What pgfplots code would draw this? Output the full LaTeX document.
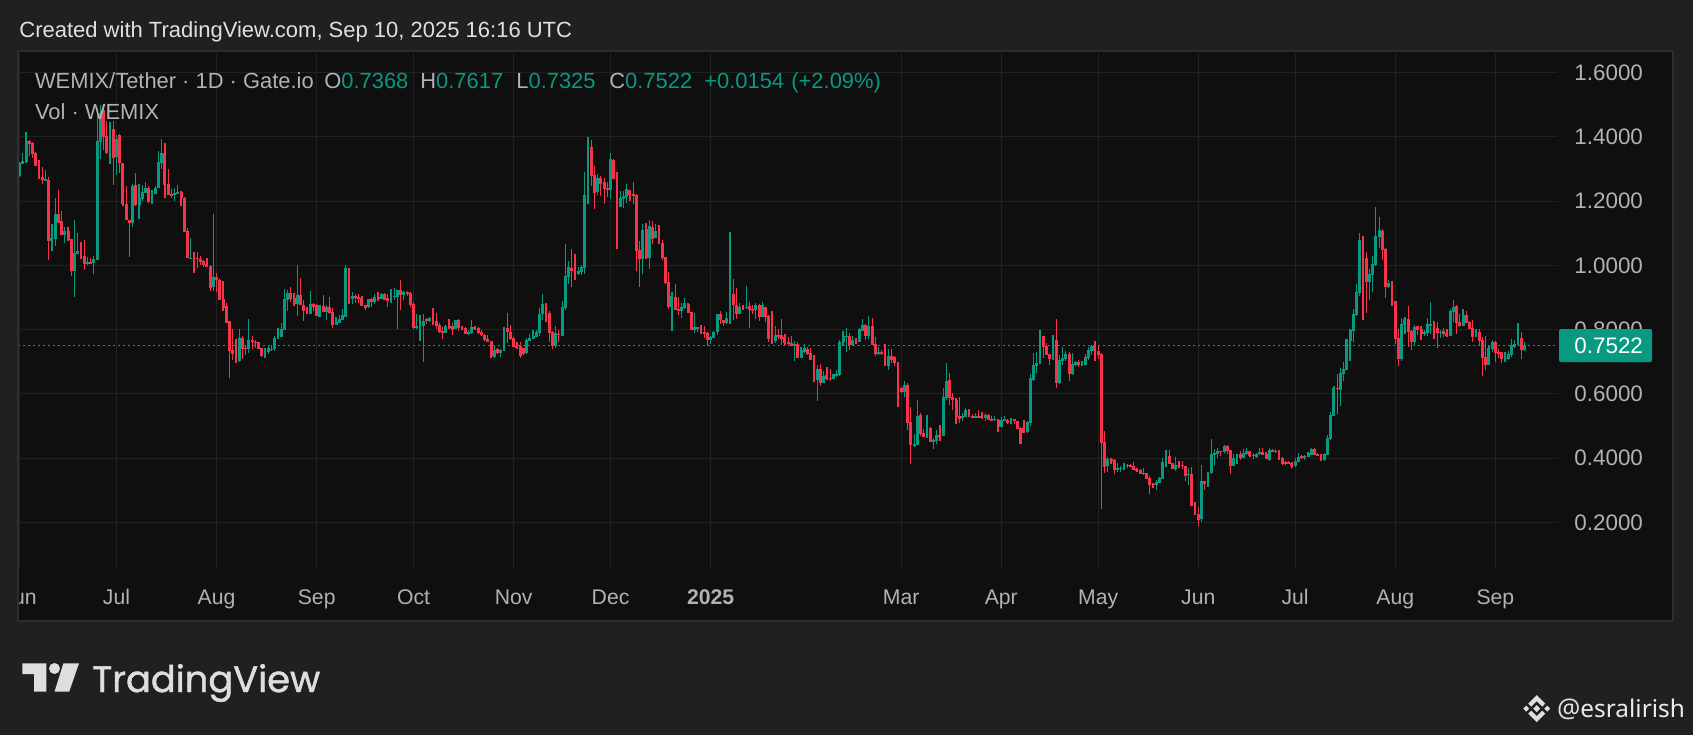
\documentclass[border=0pt]{standalone}
\usepackage{fontspec}
\setmainfont{Liberation Sans}
\newfontfamily\tvfont[FakeBold=1.2]{Poppins}
\newfontfamily\wmfont{Noto Sans}
\usepackage{pgfplots}
\usepackage{pgfplotstable}
\pgfplotsset{compat=1.18}
\definecolor{pagebg}{HTML}{202020}
\definecolor{panelbg}{HTML}{0F0F0F}
\definecolor{panelln}{HTML}{2E2E2E}
\definecolor{gridc}{HTML}{212121}
\definecolor{txt}{HTML}{B2B2B2}
\definecolor{upc}{HTML}{089981}
\definecolor{dnc}{HTML}{F5334A}
\definecolor{logoc}{HTML}{DEDEDE}
\pgfplotstableread{
d o h l c
-214 1.278 1.322 1.276 1.320
-213 1.316 1.351 1.316 1.325
-212 1.322 1.414 1.320 1.387
-211 1.386 1.390 1.341 1.379
-210 1.381 1.384 1.335 1.346
-209 1.350 1.353 1.310 1.310
-208 1.312 1.328 1.268 1.273
-207 1.275 1.305 1.254 1.266
-206 1.265 1.297 1.263 1.269
-205 1.267 1.275 1.017 1.076
-204 1.076 1.129 1.046 1.085
-203 1.082 1.210 1.060 1.160
-202 1.160 1.234 1.133 1.133
-201 1.138 1.169 1.095 1.095
-200 1.095 1.119 1.070 1.107
-199 1.107 1.119 1.076 1.078
-198 1.082 1.082 0.967 0.983
-197 0.983 1.141 0.902 1.039
-196 1.036 1.101 1.034 1.045
-195 1.045 1.073 1.020 1.023
-194 1.029 1.079 0.986 1.004
-193 1.004 1.026 1.001 1.010
-192 1.010 1.023 1.007 1.007
-191 1.007 1.029 0.973 1.020
-190 1.017 1.490 1.017 1.387
-189 1.384 1.499 1.331 1.473
-188 1.485 1.490 1.359 1.399
-187 1.402 1.449 1.346 1.350
-186 1.350 1.446 1.315 1.424
-185 1.424 1.449 1.250 1.334
-184 1.337 1.406 1.281 1.393
-183 1.406 1.409 1.287 1.318
-182 1.318 1.318 1.185 1.191
-181 1.191 1.247 1.141 1.141
-180 1.141 1.141 1.027 1.132
-179 1.132 1.253 1.119 1.247
-178 1.250 1.287 1.185 1.188
-177 1.188 1.253 1.144 1.210
-176 1.207 1.250 1.200 1.228
-175 1.225 1.259 1.225 1.241
-174 1.241 1.247 1.194 1.197
-173 1.194 1.234 1.191 1.225
-172 1.223 1.247 1.222 1.241
-171 1.241 1.356 1.241 1.322
-170 1.319 1.393 1.300 1.350
-169 1.350 1.381 1.210 1.250
-168 1.253 1.300 1.219 1.219
-167 1.222 1.238 1.210 1.218
-166 1.222 1.241 1.200 1.225
-165 1.222 1.250 1.222 1.228
-164 1.228 1.231 1.185 1.210
-163 1.210 1.213 1.104 1.104
-162 1.107 1.116 1.023 1.023
-161 1.021 1.085 1.020 1.024
-160 1.024 1.042 0.976 1.021
-159 1.024 1.042 0.992 1.021
-158 1.019 1.029 1.000 1.011
-157 1.014 1.017 0.995 1.001
-156 1.004 1.023 0.995 0.995
-155 0.998 1.001 0.920 0.930
-154 0.933 1.160 0.920 0.964
-153 0.964 0.976 0.917 0.955
-152 0.955 0.958 0.892 0.892
-151 0.895 0.951 0.858 0.867
-150 0.874 0.883 0.821 0.821
-149 0.827 0.827 0.650 0.734
-148 0.737 0.802 0.706 0.724
-147 0.724 0.771 0.696 0.706
-146 0.703 0.802 0.699 0.774
-145 0.774 0.780 0.709 0.740
-144 0.743 0.752 0.721 0.740
-143 0.740 0.833 0.727 0.768
-142 0.768 0.780 0.740 0.762
-141 0.762 0.768 0.743 0.759
-140 0.762 0.762 0.740 0.740
-139 0.743 0.743 0.716 0.718
-138 0.718 0.743 0.712 0.731
-137 0.731 0.752 0.724 0.743
-136 0.739 0.752 0.734 0.741
-135 0.740 0.780 0.734 0.774
-134 0.771 0.805 0.770 0.783
-133 0.778 0.820 0.776 0.801
-132 0.799 0.927 0.799 0.895
-131 0.892 0.924 0.858 0.914
-130 0.914 0.933 0.886 0.894
-129 0.899 0.914 0.874 0.880
-128 0.880 1.001 0.843 0.908
-127 0.908 0.961 0.877 0.877
-126 0.877 0.892 0.827 0.858
-125 0.861 0.871 0.849 0.851
-124 0.850 0.920 0.849 0.880
-123 0.880 0.883 0.858 0.872
-122 0.877 0.880 0.843 0.843
-121 0.840 0.877 0.840 0.877
-120 0.874 0.908 0.855 0.855
-119 0.855 0.877 0.830 0.871
-118 0.871 0.902 0.849 0.852
-117 0.855 0.867 0.805 0.815
-116 0.815 0.839 0.815 0.824
-115 0.821 0.846 0.821 0.833
-114 0.830 0.864 0.830 0.846
-113 0.840 1.001 0.840 0.992
-112 0.989 0.992 0.880 0.895
-111 0.895 0.917 0.880 0.905
-110 0.905 0.911 0.883 0.901
-109 0.902 0.911 0.883 0.895
-108 0.898 0.905 0.874 0.874
-107 0.877 0.877 0.861 0.867
-106 0.871 0.895 0.867 0.895
-105 0.895 0.898 0.871 0.886
-104 0.886 0.911 0.880 0.902
-103 0.902 0.917 0.889 0.895
-102 0.895 0.914 0.895 0.911
-101 0.911 0.914 0.892 0.892
-100 0.898 0.911 0.871 0.889
-99 0.892 0.927 0.883 0.908
-98 0.903 0.930 0.892 0.906
-97 0.903 0.924 0.802 0.924
-96 0.924 0.955 0.861 0.908
-95 0.908 0.920 0.892 0.917
-94 0.917 0.920 0.905 0.912
-93 0.915 0.917 0.871 0.877
-92 0.880 0.886 0.802 0.805
-91 0.808 0.849 0.802 0.811
-90 0.808 0.846 0.765 0.818
-89 0.811 0.849 0.700 0.827
-88 0.833 0.836 0.818 0.829
-87 0.827 0.839 0.824 0.836
-86 0.836 0.867 0.815 0.824
-85 0.827 0.852 0.802 0.811
-84 0.814 0.821 0.790 0.793
-83 0.796 0.808 0.771 0.792
-82 0.790 0.814 0.790 0.811
-81 0.811 0.833 0.802 0.807
-80 0.811 0.821 0.783 0.799
-79 0.802 0.830 0.802 0.830
-78 0.830 0.833 0.796 0.805
-77 0.807 0.811 0.799 0.804
-76 0.805 0.808 0.787 0.787
-75 0.787 0.799 0.783 0.793
-74 0.789 0.830 0.787 0.808
-73 0.808 0.811 0.799 0.804
-72 0.805 0.808 0.787 0.790
-71 0.793 0.799 0.780 0.783
-70 0.783 0.787 0.765 0.768
-69 0.771 0.783 0.762 0.762
-68 0.765 0.765 0.712 0.718
-67 0.715 0.749 0.712 0.737
-66 0.740 0.743 0.724 0.727
-65 0.727 0.740 0.715 0.737
-64 0.734 0.808 0.734 0.805
-63 0.805 0.852 0.759 0.793
-62 0.793 0.815 0.768 0.771
-61 0.774 0.777 0.746 0.746
-60 0.749 0.762 0.740 0.746
-59 0.749 0.762 0.712 0.718
-58 0.742 0.742 0.721 0.724
-57 0.726 0.773 0.724 0.768
-56 0.765 0.787 0.765 0.774
-55 0.771 0.799 0.771 0.780
-54 0.777 0.799 0.777 0.793
-53 0.790 0.868 0.781 0.849
-52 0.849 0.911 0.830 0.880
-51 0.880 0.883 0.824 0.849
-50 0.852 0.858 0.762 0.790
-49 0.793 0.796 0.740 0.749
-48 0.749 0.811 0.743 0.790
-47 0.787 0.799 0.762 0.784
-46 0.780 0.889 0.780 0.871
-45 0.868 1.067 0.861 0.967
-44 0.964 1.014 0.942 0.995
-43 0.992 1.051 0.933 0.983
-42 0.983 1.036 0.955 0.973
-41 0.973 0.995 0.970 0.983
-40 0.980 1.001 0.970 0.995
-39 0.992 1.291 0.973 1.219
-38 1.216 1.399 1.191 1.368
-37 1.368 1.390 1.247 1.278
-36 1.281 1.309 1.175 1.225
-35 1.228 1.284 1.219 1.272
-34 1.272 1.278 1.216 1.253
-33 1.259 1.272 1.191 1.238
-32 1.240 1.259 1.213 1.237
-31 1.235 1.350 1.207 1.331
-30 1.328 1.331 1.269 1.269
-29 1.272 1.291 1.051 1.182
-28 1.182 1.231 1.182 1.210
-27 1.207 1.231 1.179 1.216
-26 1.213 1.253 1.194 1.238
-25 1.235 1.235 1.200 1.219
-24 1.222 1.259 1.191 1.219
-23 1.219 1.222 0.983 1.045
-22 1.048 1.076 0.933 1.020
-21 1.020 1.129 0.973 1.110
-20 1.113 1.132 1.020 1.023
-19 1.023 1.141 0.989 1.123
-18 1.120 1.138 1.067 1.082
-17 1.085 1.129 1.085 1.107
-16 1.107 1.126 1.067 1.067
-15 1.070 1.079 1.017 1.023
-14 1.026 1.026 0.942 0.945
-13 0.948 0.979 0.864 0.871
-12 0.871 0.917 0.796 0.905
-11 0.902 0.942 0.861 0.861
-10 0.864 0.902 0.846 0.861
-9 0.858 0.883 0.836 0.871
-8 0.867 0.899 0.864 0.883
-7 0.880 0.883 0.852 0.852
-6 0.855 0.855 0.799 0.799
-5 0.799 0.852 0.790 0.808
-4 0.802 0.808 0.793 0.808
-3 0.808 0.815 0.787 0.787
-2 0.793 0.811 0.774 0.787
-1 0.790 0.793 0.749 0.768
0 0.768 0.780 0.755 0.777
1 0.774 0.796 0.774 0.793
2 0.793 0.849 0.784 0.849
3 0.849 0.858 0.818 0.830
4 0.830 0.830 0.811 0.821
5 0.821 0.855 0.818 0.836
6 0.830 1.104 0.818 0.911
7 0.911 0.958 0.830 0.877
8 0.877 0.930 0.833 0.849
9 0.849 0.883 0.849 0.871
10 0.873 0.877 0.861 0.863
11 0.867 0.936 0.864 0.871
12 0.873 0.886 0.805 0.861
13 0.864 0.877 0.849 0.861
14 0.861 0.883 0.833 0.877
15 0.877 0.880 0.827 0.840
16 0.840 0.886 0.840 0.877
17 0.871 0.871 0.824 0.840
18 0.843 0.846 0.762 0.771
19 0.774 0.858 0.755 0.762
20 0.765 0.811 0.758 0.783
21 0.783 0.802 0.771 0.780
22 0.783 0.833 0.752 0.771
23 0.777 0.786 0.752 0.758
24 0.762 0.777 0.752 0.758
25 0.758 0.780 0.750 0.750
26 0.752 0.765 0.703 0.755
27 0.755 0.762 0.712 0.712
28 0.712 0.746 0.712 0.737
29 0.730 0.755 0.727 0.743
30 0.740 0.746 0.721 0.724
31 0.727 0.743 0.706 0.706
32 0.709 0.721 0.637 0.643
33 0.643 0.690 0.578 0.678
34 0.678 0.693 0.625 0.634
35 0.634 0.671 0.634 0.656
36 0.659 0.684 0.643 0.647
37 0.650 0.678 0.640 0.647
38 0.647 0.662 0.647 0.662
39 0.656 0.675 0.653 0.662
40 0.659 0.768 0.656 0.762
41 0.762 0.796 0.749 0.780
42 0.778 0.805 0.730 0.781
43 0.780 0.790 0.737 0.752
44 0.752 0.780 0.749 0.768
45 0.768 0.774 0.755 0.764
46 0.763 0.805 0.763 0.802
47 0.796 0.833 0.796 0.814
48 0.814 0.818 0.768 0.780
49 0.780 0.842 0.771 0.811
50 0.811 0.836 0.752 0.752
51 0.755 0.777 0.718 0.724
52 0.724 0.746 0.721 0.730
53 0.730 0.737 0.721 0.724
54 0.727 0.755 0.687 0.687
55 0.687 0.740 0.675 0.718
56 0.718 0.740 0.696 0.706
57 0.715 0.718 0.687 0.696
58 0.696 0.699 0.559 0.615
59 0.618 0.622 0.603 0.606
60 0.606 0.640 0.591 0.628
61 0.628 0.634 0.488 0.510
62 0.513 0.559 0.382 0.441
63 0.441 0.475 0.435 0.444
64 0.441 0.581 0.441 0.531
65 0.534 0.541 0.469 0.475
66 0.478 0.491 0.466 0.466
67 0.466 0.534 0.463 0.494
68 0.494 0.497 0.450 0.450
69 0.450 0.463 0.429 0.457
70 0.454 0.488 0.444 0.472
71 0.472 0.503 0.454 0.469
72 0.469 0.618 0.469 0.591
73 0.587 0.696 0.581 0.640
74 0.643 0.665 0.566 0.587
75 0.591 0.603 0.550 0.581
76 0.581 0.587 0.507 0.528
77 0.531 0.591 0.510 0.522
78 0.528 0.541 0.516 0.531
79 0.528 0.556 0.528 0.550
80 0.547 0.553 0.528 0.528
81 0.531 0.538 0.525 0.525
82 0.525 0.541 0.525 0.531
83 0.531 0.550 0.525 0.528
84 0.531 0.544 0.522 0.525
85 0.525 0.541 0.516 0.534
86 0.534 0.538 0.519 0.519
87 0.522 0.531 0.516 0.516
88 0.519 0.531 0.516 0.522
89 0.519 0.522 0.482 0.497
90 0.497 0.528 0.497 0.519
91 0.518 0.531 0.516 0.521
92 0.519 0.522 0.507 0.510
93 0.510 0.525 0.507 0.521
94 0.521 0.521 0.507 0.516
95 0.516 0.516 0.491 0.491
96 0.494 0.497 0.444 0.444
97 0.494 0.519 0.479 0.479
98 0.482 0.516 0.479 0.513
99 0.510 0.662 0.500 0.650
100 0.644 0.727 0.640 0.690
101 0.687 0.731 0.665 0.696
102 0.693 0.799 0.693 0.780
103 0.780 0.780 0.712 0.746
104 0.749 0.759 0.721 0.721
105 0.724 0.724 0.690 0.709
106 0.706 0.783 0.706 0.768
107 0.768 0.833 0.619 0.634
108 0.634 0.721 0.631 0.706
109 0.703 0.746 0.690 0.712
110 0.709 0.734 0.703 0.724
111 0.724 0.731 0.640 0.662
112 0.662 0.727 0.659 0.693
113 0.690 0.703 0.687 0.699
114 0.699 0.706 0.684 0.690
115 0.690 0.703 0.687 0.693
116 0.690 0.724 0.690 0.715
117 0.712 0.746 0.706 0.737
118 0.734 0.752 0.721 0.749
119 0.752 0.765 0.703 0.734
120 0.734 0.752 0.709 0.721
121 0.724 0.727 0.242 0.447
122 0.450 0.485 0.354 0.373
123 0.376 0.404 0.357 0.398
124 0.398 0.401 0.382 0.392
125 0.395 0.398 0.351 0.363
126 0.363 0.385 0.357 0.370
127 0.367 0.376 0.357 0.371
128 0.367 0.385 0.363 0.379
129 0.379 0.382 0.370 0.376
130 0.378 0.382 0.372 0.375
131 0.376 0.388 0.363 0.363
132 0.365 0.370 0.357 0.362
133 0.363 0.367 0.351 0.351
134 0.354 0.370 0.348 0.351
135 0.354 0.354 0.336 0.336
136 0.339 0.345 0.289 0.317
137 0.320 0.323 0.308 0.317
138 0.317 0.332 0.301 0.326
139 0.323 0.342 0.323 0.339
140 0.336 0.401 0.336 0.388
141 0.385 0.426 0.373 0.410
142 0.407 0.426 0.382 0.382
143 0.385 0.385 0.367 0.367
144 0.367 0.404 0.360 0.379
145 0.379 0.392 0.370 0.376
146 0.379 0.392 0.367 0.376
147 0.376 0.376 0.329 0.345
148 0.348 0.370 0.317 0.351
149 0.351 0.373 0.252 0.252
150 0.255 0.264 0.223 0.223
151 0.227 0.248 0.189 0.208
152 0.211 0.379 0.202 0.329
153 0.329 0.329 0.301 0.320
154 0.320 0.357 0.311 0.357
155 0.354 0.460 0.351 0.413
156 0.412 0.429 0.376 0.415
157 0.413 0.432 0.401 0.423
158 0.423 0.423 0.407 0.420
159 0.420 0.441 0.416 0.438
160 0.438 0.441 0.413 0.423
161 0.426 0.426 0.351 0.376
162 0.376 0.413 0.376 0.401
163 0.398 0.413 0.382 0.413
164 0.413 0.423 0.395 0.401
165 0.401 0.429 0.401 0.416
166 0.413 0.432 0.410 0.423
167 0.423 0.423 0.404 0.407
168 0.410 0.416 0.398 0.407
169 0.404 0.416 0.401 0.413
170 0.413 0.432 0.410 0.420
171 0.420 0.432 0.410 0.410
172 0.413 0.420 0.398 0.398
173 0.395 0.432 0.391 0.426
174 0.426 0.430 0.418 0.421
175 0.421 0.429 0.417 0.424
176 0.424 0.426 0.395 0.400
177 0.402 0.405 0.378 0.382
178 0.389 0.392 0.378 0.382
179 0.389 0.392 0.381 0.384
180 0.386 0.389 0.371 0.376
181 0.376 0.400 0.374 0.392
182 0.389 0.415 0.389 0.405
183 0.408 0.410 0.397 0.400
184 0.400 0.410 0.395 0.407
185 0.405 0.420 0.405 0.415
186 0.410 0.431 0.410 0.428
187 0.428 0.431 0.410 0.410
188 0.412 0.415 0.408 0.410
189 0.410 0.412 0.392 0.394
190 0.394 0.415 0.392 0.412
191 0.410 0.472 0.410 0.462
192 0.459 0.545 0.457 0.535
193 0.532 0.625 0.532 0.619
194 0.620 0.662 0.538 0.616
195 0.612 0.681 0.563 0.665
196 0.662 0.699 0.640 0.678
197 0.675 0.771 0.675 0.771
198 0.765 0.802 0.703 0.799
199 0.796 0.864 0.762 0.849
200 0.846 0.942 0.842 0.917
201 0.914 1.101 0.905 1.079
202 1.079 1.091 0.830 1.020
203 1.023 1.042 0.852 0.948
204 0.948 0.989 0.892 0.973
205 0.970 1.029 0.917 1.004
206 1.001 1.182 0.998 1.091
207 1.088 1.150 1.054 1.110
208 1.107 1.113 1.017 1.048
209 1.051 1.054 0.898 0.933
210 0.933 0.955 0.930 0.945
211 0.945 0.951 0.874 0.886
212 0.889 0.889 0.755 0.771
213 0.774 0.802 0.687 0.709
214 0.709 0.836 0.702 0.818
215 0.815 0.839 0.786 0.833
216 0.833 0.874 0.746 0.793
217 0.796 0.799 0.737 0.762
218 0.762 0.814 0.749 0.808
219 0.811 0.811 0.783 0.799
220 0.802 0.811 0.768 0.786
221 0.786 0.799 0.780 0.793
222 0.790 0.836 0.780 0.818
223 0.814 0.886 0.786 0.818
224 0.818 0.827 0.771 0.802
225 0.805 0.824 0.743 0.790
226 0.790 0.799 0.774 0.793
227 0.796 0.805 0.777 0.786
228 0.790 0.802 0.777 0.780
229 0.780 0.864 0.780 0.858
230 0.855 0.892 0.824 0.871
231 0.874 0.877 0.786 0.821
232 0.824 0.849 0.808 0.811
233 0.811 0.864 0.811 0.846
234 0.846 0.858 0.821 0.821
235 0.824 0.827 0.802 0.802
236 0.805 0.830 0.762 0.777
237 0.777 0.802 0.777 0.793
238 0.793 0.802 0.749 0.765
239 0.768 0.777 0.656 0.712
240 0.715 0.780 0.674 0.690
241 0.690 0.752 0.690 0.743
242 0.740 0.768 0.730 0.762
243 0.762 0.765 0.699 0.727
244 0.730 0.740 0.712 0.727
245 0.730 0.730 0.696 0.709
246 0.709 0.730 0.699 0.712
247 0.709 0.734 0.706 0.724
248 0.721 0.771 0.715 0.752
249 0.746 0.768 0.743 0.755
250 0.752 0.821 0.752 0.774
251 0.774 0.793 0.709 0.7368
252 0.7368 0.7617 0.7325 0.7522
}\candles
\begin{document}
\begin{tikzpicture}[x=0.5pt,y=-0.5pt]
\fill[pagebg] (0,0) rectangle (1693,735);
\filldraw[fill=panelbg,draw=panelln,line width=1pt] (18,51) rectangle (1673,621);
\begin{axis}[
  at={(9pt,-284pt)}, anchor=south west, scale only axis,
  width=770pt, height=258.5pt,
  xmin=-214.5, xmax=262.4, ymin=0.0584, ymax=1.667,
  axis line style={draw=none}, major tick length=0pt,
  grid=major, grid style={draw=gridc,line width=0.5pt},
  xtick={-214,-184,-153,-122,-92,-61,-31,0,59,90,120,151,181,212,243},
  xticklabels={Jun,Jul,Aug,Sep,Oct,Nov,Dec,\textbf{2025},Mar,Apr,May,Jun,Jul,Aug,Sep},
  ytick={0.2,0.4,0.6,0.8,1.0,1.2,1.4,1.6},
  yticklabels={0.2000,0.4000,0.6000,0.8000,1.0000,1.2000,1.4000,1.6000},
  yticklabel pos=right,
  xticklabel style={anchor=base,yshift=-18pt,inner sep=0pt,text=txt,font=\fontsize{10.6}{13}\selectfont},
  yticklabel style={anchor=west,xshift=8pt,inner sep=0pt,text=txt,font=\fontsize{11.2}{13}\selectfont},
]
\addplot[upc,line width=0.5pt,dash pattern=on 1pt off 1.5pt,forget plot] coordinates {(-214.5,0.7522) (262.4,0.7522)};
% wicks
\addplot[draw=none,mark=none,forget plot,
  restrict expr to domain={\thisrow{c}-\thisrow{o}}{0:10},
  error bars/.cd,y dir=both,y explicit,error mark=none,
  error bar style={draw=upc,line width=0.6pt}]
  table[x=d,y expr={(\thisrow{h}+\thisrow{l})/2},y error expr={(\thisrow{h}-\thisrow{l})/2}] {\candles};
\addplot[draw=none,mark=none,forget plot,
  restrict expr to domain={\thisrow{c}-\thisrow{o}}{-10:-0.0001},
  error bars/.cd,y dir=both,y explicit,error mark=none,
  error bar style={draw=dnc,line width=0.6pt}]
  table[x=d,y expr={(\thisrow{h}+\thisrow{l})/2},y error expr={(\thisrow{h}-\thisrow{l})/2}] {\candles};
% bodies
\addplot[draw=none,mark=none,forget plot,
  restrict expr to domain={\thisrow{c}-\thisrow{o}}{0:10},
  error bars/.cd,y dir=both,y explicit,error mark=none,
  error bar style={draw=upc,line width=1.45pt}]
  table[x=d,y expr={(\thisrow{o}+\thisrow{c})/2},y error expr={abs(\thisrow{c}-\thisrow{o})/2}] {\candles};
\addplot[draw=none,mark=none,forget plot,
  restrict expr to domain={\thisrow{c}-\thisrow{o}}{-10:-0.0001},
  error bars/.cd,y dir=both,y explicit,error mark=none,
  error bar style={draw=dnc,line width=1.45pt}]
  table[x=d,y expr={(\thisrow{o}+\thisrow{c})/2},y error expr={abs(\thisrow{c}-\thisrow{o})/2}] {\candles};
\end{axis}
% left strip hides the clipped part of the first month label
\fill[pagebg] (0,0) rectangle (17,735);
\draw[panelln,line width=1pt] (18,51) -- (18,621);
% price badge
\fill[upc,rounded corners=1pt] (1559,329) rectangle (1652,362);
\node[anchor=base west,inner sep=0pt,text=white,font=\fontsize{11.2}{13}\selectfont] at (1574,353) {0.7522};
% header text
\node[anchor=base west,inner sep=0pt,text=white!88!black,font=\fontsize{11}{13}\selectfont] at (19,37) {Created with TradingView.com, Sep 10, 2025 16:16 UTC};
\begin{scope}[every node/.style={anchor=base west,inner sep=0pt,font=\fontsize{10.95}{13}\selectfont}]
\node[text=txt] at (34.6,88.3) {WEMIX/Tether · 1D · Gate.io};
\node[text=txt] at (324,88.3) {O\textcolor{upc}{0.7368}};
\node[text=txt] at (420,88.3) {H\textcolor{upc}{0.7617}};
\node[text=txt] at (516,88.3) {L\textcolor{upc}{0.7325}};
\node[text=txt] at (609,88.3) {C\textcolor{upc}{0.7522}};
\node[text=upc] at (704,88.3) {+0.0154};
\node[text=upc] at (791,88.3) {(+2.09\%)};
\node[text=txt] at (34.6,119.3) {Vol · WEMIX};
\end{scope}
% TradingView logo
\fill[logoc] (22.3,663.3) -- (46.4,663.3) -- (46.4,691.7) -- (34,691.7) -- (34,674) -- (22.3,674) -- cycle;
\fill[logoc] (54.5,668.5) circle (5.5);
\fill[logoc] (63.4,663.3) -- (79,663.3) -- (69.2,691.7) -- (54.5,691.7) -- cycle;
\node[anchor=base west,inner sep=0pt,text=logoc,font=\tvfont\fontsize{18.4}{20}\selectfont] at (92,692) {TradingView};
% Binance mark and handle
\begin{scope}[shift={(1536.7,708.7)},fill=logoc]
\fill (0,-3.5) -- (3.5,0) -- (0,3.5) -- (-3.5,0) -- cycle;
\fill (-13.5,0) -- (-10.5,-3) -- (-7.5,0) -- (-10.5,3) -- cycle;
\fill (13.5,0) -- (10.5,-3) -- (7.5,0) -- (10.5,3) -- cycle;
\fill (0,-13.5) -- (8.5,-5) -- (5.5,-2) -- (0,-7.5) -- (-5.5,-2) -- (-8.5,-5) -- cycle;
\fill (0,13.5) -- (8.5,5) -- (5.5,2) -- (0,7.5) -- (-5.5,2) -- (-8.5,5) -- cycle;
\end{scope}
\node[anchor=base west,inner sep=0pt,text=logoc,font=\wmfont\fontsize{13}{15}\selectfont] at (1556.7,717) {@};
\node[anchor=base west,inner sep=0pt,text=white!92!black,font=\wmfont\fontsize{12.2}{15}\selectfont] at (1580,717) {esralirish};
\end{tikzpicture}
\end{document}
